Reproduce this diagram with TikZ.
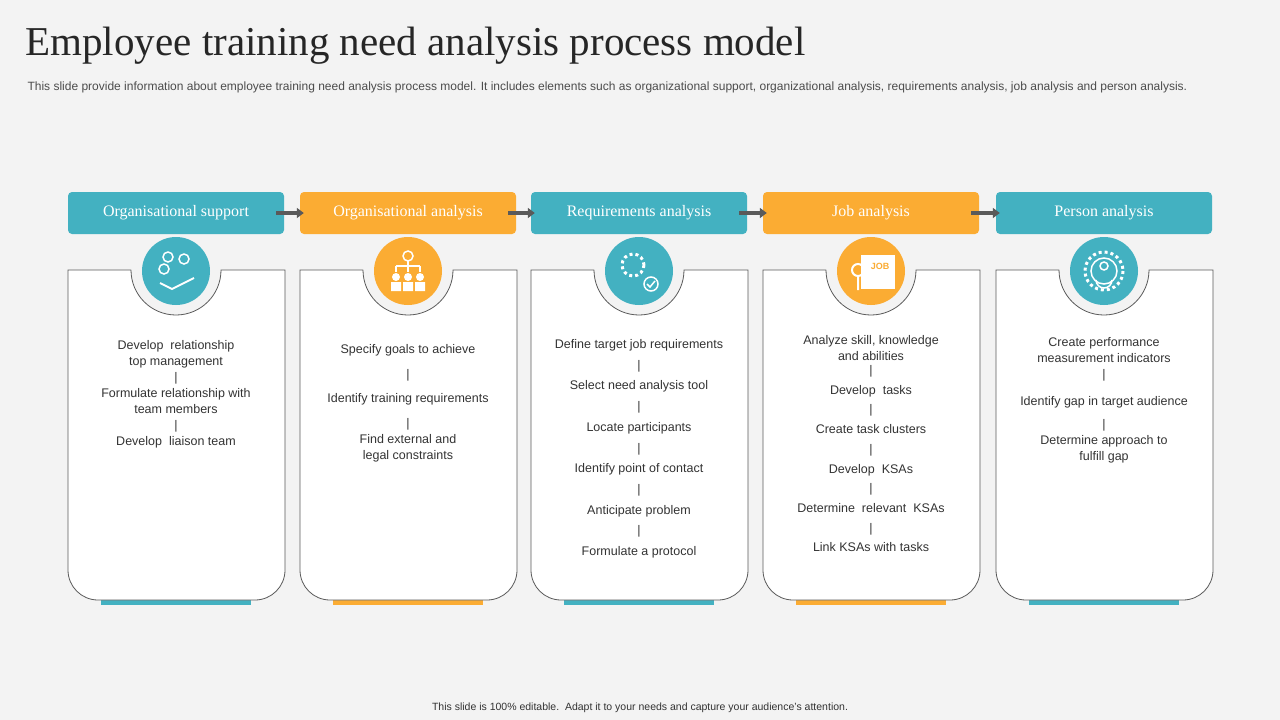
\documentclass[tikz,border=0pt]{standalone}
\usepackage{fontspec}
\setmainfont{Liberation Sans}
\newfontfamily\titlefont{Liberation Serif}
\usetikzlibrary{positioning, arrows.meta}
\definecolor{tealc}{HTML}{43B1C1}
\definecolor{orangec}{HTML}{FBAC33}
\definecolor{bgc}{HTML}{F3F3F3}
\definecolor{edgec}{HTML}{5A5A5A}
\tikzset{
  headbox/.style={rounded corners=4pt, minimum width=216pt, minimum height=42pt, inner sep=0pt,
     text=white, font=\titlefont\fontsize{16}{18}\selectfont},
  cardtext/.style={align=center, font=\fontsize{12.5}{16}\selectfont, text=black!80},
  steparrow/.style={-{Triangle[length=7pt,width=10pt]}, line width=4.5pt, draw=edgec},
  iconring/.style={circle, minimum size=68pt, inner sep=0pt}
}
\newcommand{\cardshape}[2]{% center x, colour
  \fill[#2] (#1-75,598) rectangle (#1+75,605);
  \draw[edgec, fill=white, line width=0.8pt] (#1-45,270) -- (#1-108,270) -- (#1-108,570)
     arc[start angle=180, end angle=90, radius=30] -- (#1+79,600)
     arc[start angle=90, end angle=0, radius=30] -- (#1+109,270) -- (#1+45,270)
     arc[start angle=0, end angle=180, radius=45];
}
\begin{document}
\begin{tikzpicture}[x=1pt,y=-1pt]
\fill[bgc] (0,0) rectangle (1280,720);
\useasboundingbox (0,0) rectangle (1280,720);
\node[anchor=west, font=\titlefont\fontsize{41}{44}\selectfont, text=black!85] (title) at (22,46) {Employee training need analysis process model};
\node[anchor=west, font=\fontsize{12}{14}\selectfont, text=black!70] (subtitle) at (24,87) {This slide provide information about employee training need analysis process model. It includes elements such as organizational support, organizational analysis, requirements analysis, job analysis and person analysis.};
\node[font=\fontsize{10.5}{12}\selectfont, text=black!80] (footer) at (640,708) {This slide is 100\% editable.\ \ Adapt it to your needs and capture your audience's attention.};

% cards
\cardshape{176}{tealc}
\cardshape{408}{orangec}
\cardshape{639}{tealc}
\cardshape{871}{orangec}
\cardshape{1104}{tealc}

% headers
\node[headbox, fill=tealc] (h1) at (176,213) {Organisational support};
\node[headbox, fill=orangec] (h2) at (408,213) {Organisational analysis};
\node[headbox, fill=tealc] (h3) at (639,213) {Requirements analysis};
\node[headbox, fill=orangec] (h4) at (871,213) {Job analysis};
\node[headbox, fill=tealc] (h5) at (1104,213) {Person analysis};
\foreach \a/\b in {h1/h2, h2/h3, h3/h4, h4/h5}
  \draw[steparrow] ([xshift=-8pt]\a.east) -- ([xshift=4pt]\b.west);

% icons
\node[iconring, fill=tealc] (i1) at (176,271) {};
\node[iconring, fill=orangec] (i2) at (408,271) {};
\node[iconring, fill=tealc] (i3) at (639,271) {};
\node[iconring, fill=orangec] (i4) at (871,271) {};
\node[iconring, fill=tealc] (i5) at (1104,271) {};
\draw[white, line width=2pt] (160,283) -- (172,289) -- (194,278);
\foreach \dx/\dy in {-8/-14, 8/-12, -12/-2}
  \draw[white, line width=1.5pt] (176+\dx,271+\dy) circle (5);
\draw[white, line width=1.5pt] (408,256) circle (5);
\draw[white, line width=1.5pt] (408,261) -- (408,266) (396,266) -- (420,266) (396,266) -- (396,272) (408,266) -- (408,272) (420,266) -- (420,272);
\foreach \dx in {-12,0,12} \fill[white] (408+\dx,277) circle (4) (408+\dx-5,291) rectangle (408+\dx+5,282);
\draw[white, line width=3pt, dashed] (633,265) circle (11);
\draw[white, fill=tealc, line width=1.5pt] (651,284) circle (7);
\draw[white, line width=1.5pt] (647,284) -- (650,287) -- (655,281);
\draw[white, line width=1.5pt, fill=white] (862,256) rectangle (894,288);
\node[font=\bfseries\fontsize{9}{9}\selectfont, text=orangec] (jobtxt) at (880,266) {JOB};
\draw[white, line width=2pt] (858,270) circle (6) (858,276) -- (858,290);
\draw[white, line width=3pt, dashed] (1104,271) circle (19);
\draw[white, line width=1.5pt] (1104,271) circle (13) (1104,266) circle (4);
\draw[white, line width=1.5pt] (1096,280) arc[start angle=180, end angle=0, radius=8];

% texts
\node[cardtext, anchor=north] (t1) at (176,337) {Develop\ \ relationship\\top management\\|\\Formulate relationship with\\team members\\|\\Develop\ \ liaison team};
\node[cardtext, anchor=north, font=\fontsize{12.5}{24.5}\selectfont] (t2) at (408,341) {Specify goals to achieve\\|\\Identify training requirements\\|};
\node[cardtext, anchor=north] (t2b) at (408,431) {Find external and\\legal constraints};
\node[cardtext, anchor=north, font=\fontsize{12.5}{20.7}\selectfont] (t3) at (639,336) {Define target job requirements\\|\\Select need analysis tool\\|\\Locate participants\\|\\Identify point of contact\\|\\Anticipate problem\\|\\Formulate a protocol};
\node[cardtext, anchor=north] (t4a) at (871,332) {Analyze skill, knowledge\\and abilities};
\node[cardtext, anchor=north, font=\fontsize{12.5}{19.7}\selectfont] (t4) at (871,362) {|\\Develop\ \ tasks\\|\\Create task clusters\\|\\Develop\ \ KSAs\\|\\Determine\ \ relevant\ \ KSAs\\|\\Link KSAs with tasks};
\node[cardtext, anchor=north] (t5) at (1104,334) {Create performance\\measurement indicators\\|};
\node[cardtext, anchor=north] (t5b) at (1104,393) {Identify gap in target audience};
\node[cardtext, anchor=north] (t5c) at (1104,416) {|\\Determine approach to\\fulfill gap};
\end{tikzpicture}
\end{document}
